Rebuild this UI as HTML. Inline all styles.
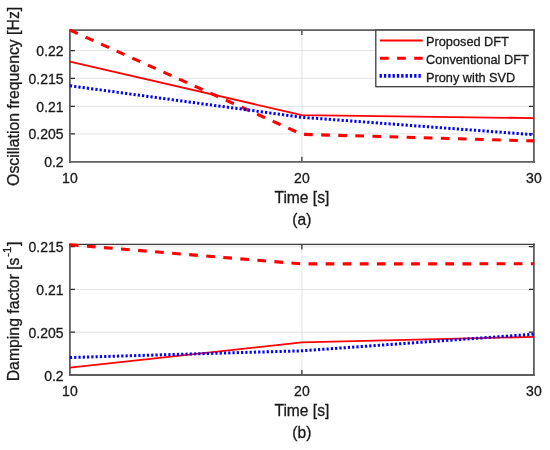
<!DOCTYPE html>
<html><head><meta charset="utf-8">
<style>
html,body{margin:0;padding:0;background:#fff;width:550px;height:450px;overflow:hidden}
svg{display:block}
text{font-family:"Liberation Sans",Arial,Helvetica,sans-serif;fill:#1a1a1a;stroke:#1a1a1a;stroke-width:0.3px}
.tk{font-size:14px}
.lb{font-size:15.6px}
.lg{font-size:12.75px}
.yl{font-size:15.8px}
</style></head><body>
<svg width="550" height="450" viewBox="0 0 550 450">
<rect width="550" height="450" fill="#fff"/>
<!-- (a) -->
<g stroke="#e3e3e3" stroke-width="1" fill="none">
<line x1="69.9" y1="50.6" x2="533.9" y2="50.6"/>
<line x1="69.9" y1="78.3" x2="533.9" y2="78.3"/>
<line x1="69.9" y1="106.4" x2="533.9" y2="106.4"/>
<line x1="69.9" y1="133.9" x2="533.9" y2="133.9"/>
<line x1="301.9" y1="30.1" x2="301.9" y2="161.8"/>
</g>
<path d="M69.9 50.6h5M533.9 50.6h-5M69.9 78.3h5M533.9 78.3h-5M69.9 106.4h5M533.9 106.4h-5M69.9 133.9h5M533.9 133.9h-5M301.9 161.8v-5M301.9 30.1v5" stroke="#2a2a2a" stroke-width="1.2" fill="none"/>
<g fill="none" stroke="#5e5e5e" stroke-width="1.8">
<line x1="69.9" y1="29.2" x2="69.9" y2="162.7"/>
<line x1="533.9" y1="29.2" x2="533.9" y2="162.7"/>
<line x1="69.0" y1="161.8" x2="534.8" y2="161.8"/>
<line x1="69.0" y1="30.1" x2="534.8" y2="30.1" stroke="#5e5e5e" stroke-width="1.8"/>
</g>
<g fill="none" stroke-linejoin="round">
<polyline points="69.9,61.7 301.9,115.1 533.9,118.1" stroke="#ff0000" stroke-width="1.8"/>
<polyline points="69.9,30.1 301.9,134.3 533.9,140.9" stroke="#ff0000" stroke-width="3.1" stroke-dasharray="8.7 8.4"/>
<polyline points="69.9,85.8 301.9,117.3 533.9,134.7" stroke="#0000ff" stroke-width="3.0" stroke-dasharray="2.2 2.08"/>
</g>
<!-- legend -->
<rect x="375.8" y="30.1" width="158.1" height="56.6" fill="#fff" stroke="#3c3c3c" stroke-width="1.3"/>
<line x1="380" y1="40.5" x2="422.7" y2="40.5" stroke="#ff0000" stroke-width="1.8"/>
<line x1="380" y1="58.2" x2="422.7" y2="58.2" stroke="#ff0000" stroke-width="3.1" stroke-dasharray="8.7 8.4"/>
<line x1="379.6" y1="75.9" x2="421.2" y2="75.9" stroke="#0000ff" stroke-width="3.6" stroke-dasharray="2.3 2.02"/>
<text class="lg" x="426" y="46.2">Proposed DFT</text>
<text class="lg" x="426" y="64">Conventional DFT</text>
<text class="lg" x="426" y="81.8">Prony with SVD</text>
<g class="tk" text-anchor="end">
<text x="63.6" y="56.0">0.22</text>
<text x="63.6" y="83.7">0.215</text>
<text x="63.6" y="111.8">0.21</text>
<text x="63.6" y="139.3">0.205</text>
<text x="63.6" y="167.2">0.2</text>
</g>
<g class="tk" text-anchor="middle">
<text x="69.9" y="182.7">10</text>
<text x="301.9" y="182.7">20</text>
<text x="533.9" y="182.7">30</text>
</g>
<text class="lb" x="301.9" y="202.6" text-anchor="middle">Time [s]</text>
<text class="lb" x="301.9" y="225.3" text-anchor="middle">(a)</text>
<text class="yl" transform="translate(18.8,96.35) rotate(-90)" text-anchor="middle">Oscillation frequency [Hz]</text>
<!-- (b) -->
<g stroke="#e3e3e3" stroke-width="1" fill="none">
<line x1="69.9" y1="246.7" x2="533.9" y2="246.7"/>
<line x1="69.9" y1="289.4" x2="533.9" y2="289.4"/>
<line x1="69.9" y1="332.2" x2="533.9" y2="332.2"/>
<line x1="301.9" y1="244.4" x2="301.9" y2="375.0"/>
</g>
<path d="M69.9 246.7h5M533.9 246.7h-5M69.9 289.4h5M533.9 289.4h-5M69.9 332.2h5M533.9 332.2h-5M301.9 375.0v-5M301.9 244.4v5" stroke="#2a2a2a" stroke-width="1.2" fill="none"/>
<g fill="none" stroke="#5e5e5e" stroke-width="1.8">
<line x1="69.9" y1="243.5" x2="69.9" y2="375.9"/>
<line x1="533.9" y1="243.5" x2="533.9" y2="375.9"/>
<line x1="69.0" y1="375.0" x2="534.8" y2="375.0"/>
<line x1="69.0" y1="244.4" x2="534.8" y2="244.4" stroke="#3a3a3a" stroke-width="1.3"/>
</g>
<g fill="none" stroke-linejoin="round">
<polyline points="69.9,367.6 301.9,342.4 533.9,336.9" stroke="#ff0000" stroke-width="1.8"/>
<polyline points="69.9,244.8 301.9,263.9 533.9,263.8" stroke="#ff0000" stroke-width="3.1" stroke-dasharray="8.7 8.4"/>
<polyline points="69.9,357.5 301.9,350.8 533.9,334.2" stroke="#0000ff" stroke-width="3.0" stroke-dasharray="2.2 2.08"/>
</g>
<g class="tk" text-anchor="end">
<text x="63.6" y="252.3">0.215</text>
<text x="63.6" y="295.0">0.21</text>
<text x="63.6" y="337.8">0.205</text>
<text x="63.6" y="380.6">0.2</text>
</g>
<g class="tk" text-anchor="middle">
<text x="69.9" y="395.8">10</text>
<text x="301.9" y="395.8">20</text>
<text x="533.9" y="395.8">30</text>
</g>
<text class="lb" x="301.9" y="416.2" text-anchor="middle">Time [s]</text>
<text class="lb" x="301.9" y="438.4" text-anchor="middle">(b)</text>
<text class="yl" transform="translate(18.7,311.4) rotate(-90)" text-anchor="middle">Damping factor [s<tspan dx="0.8" dy="-7.4" font-size="11.5px">-1</tspan><tspan dx="0.6" dy="7.4">]</tspan></text>
</svg>
</body></html>
